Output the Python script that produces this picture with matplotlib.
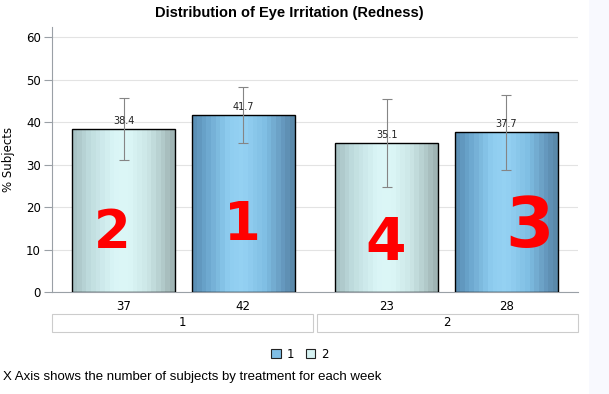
import numpy as np
import matplotlib
matplotlib.use("Agg")
import matplotlib.pyplot as plt
from matplotlib.colors import LinearSegmentedColormap
from matplotlib.patches import Rectangle, Patch

# data
groups = ["1", "2"]
treatments = ["2", "1", "2", "1"]          # fill style for each bar, left to right
n_subjects = ["37", "42", "23", "28"]
pct = [38.4, 41.7, 35.1, 37.7]
err_hi = [45.6, 48.2, 45.5, 46.5]
err_lo = [31.0, 35.2, 24.7, 28.7]
bar_group = [0, 0, 1, 1]
bar_side = [-1, 1, -1, 1]

# hand-written red marks over the bars
marks = ["2", "1", "4", "3"]
mark_x = [0.46, 1.45, 2.54, 3.63]
mark_y = [14.0, 15.8, 11.5, 15.3]
mark_size = [38, 38, 42, 50]

blue = LinearSegmentedColormap.from_list("blue", [
    (0.0, "#5b90b6"), (0.12, "#6ba6cd"), (0.35, "#8fcdf0"), (0.5, "#95d2f3"),
    (0.72, "#80bfe4"), (0.9, "#6699bf"), (1.0, "#5a89aa")], N=22)
light = LinearSegmentedColormap.from_list("light", [
    (0.0, "#a8c3c5"), (0.15, "#bfdcde"), (0.4, "#daf5f6"), (0.55, "#dcf7f7"),
    (0.75, "#cce6e6"), (0.9, "#b2cbcb"), (1.0, "#9fb4b4")], N=22)
fills = {"1": blue, "2": light}
swatch = {"1": "#7fbde4", "2": "#d6f2f2"}

W, H = 609, 394
fig = plt.figure(figsize=(W / 100, H / 100), dpi=100)
fig.patch.set_facecolor("white")
fig.patches.append(Rectangle((589 / W, 0), 1 - 589 / W, 1, transform=fig.transFigure,
                             facecolor="#f8f9fe", edgecolor="none", zorder=0))

ax = fig.add_axes([52 / W, (H - 292) / H, 526 / W, 265 / H])
ax.set_xlim(0, 4)
ax.set_ylim(0, 62.4)

width = 0.78
offset = 0.455
centers = [2 * g + 1 + s * offset for g, s in zip(bar_group, bar_side)]
grad = np.linspace(0, 1, 200).reshape(1, -1)
for x, v, t, hi, lo in zip(centers, pct, treatments, err_hi, err_lo):
    x0, x1 = x - width / 2, x + width / 2
    im = ax.imshow(grad, cmap=fills[t], extent=[x0, x1, 0, v], aspect="auto",
                   interpolation="nearest", zorder=2)
    rect = Rectangle((x0, 0), width, v, facecolor="none", edgecolor="black",
                     lw=1.0, zorder=3)
    ax.add_patch(rect)
    im.set_clip_path(rect)
    ax.errorbar(x, v, yerr=[[v - lo], [hi - v]], fmt="none", ecolor="#858585",
                elinewidth=0.8, capsize=3.6, capthick=0.8, zorder=4)
    ax.text(x, v + 1.8, f"{v:.1f}", ha="center", va="center", fontsize=7,
            color="#222222", zorder=5)

for m, x, y, s in zip(marks, mark_x, mark_y, mark_size):
    ax.text(x, y, m, ha="center", va="center", fontsize=s, color="red",
            fontweight="bold", family="DejaVu Sans", zorder=6)

ax.set_yticks(np.arange(0, 61, 10))
ax.grid(axis="y", color="#e3e3e3", lw=0.8, zorder=0)
ax.set_axisbelow(True)
ax.set_xticks(centers)
ax.set_xticklabels(n_subjects, fontsize=8.5)
ax.tick_params(axis="x", length=0, pad=6)
ax.tick_params(axis="y", length=6, color="#9aa0a6", labelsize=8.5, pad=2)
for s in ["top", "right"]:
    ax.spines[s].set_visible(False)
for s in ["left", "bottom"]:
    ax.spines[s].set_color("#9aa0a6")
ax.set_ylabel("% Subjects", fontsize=8.5, labelpad=8)

# group boxes under the tick labels
box_top = -22 / 265
box_h = 18 / 265
for i, g in enumerate(groups):
    x0 = 0.0 if i == 0 else 0.503
    w = 0.497
    ax.add_patch(Rectangle((x0, box_top - box_h), w, box_h, transform=ax.transAxes,
                           facecolor="white", edgecolor="#cccccc", lw=0.8,
                           clip_on=False))
    ax.text(x0 + w / 2, box_top - box_h / 2, g, transform=ax.transAxes,
            ha="center", va="center", fontsize=8.5)

fig.text(289 / W, 1 - 13 / H, "Distribution of Eye Irritation (Redness)",
         ha="center", va="center", fontsize=10.5, fontweight="bold",
         family="Liberation Sans")

handles = [Patch(facecolor=swatch[k], edgecolor="#222222", lw=0.8) for k in ["1", "2"]]
fig.legend(handles, ["1", "2"], loc="center", bbox_to_anchor=(300 / W, 1 - 354 / H),
           ncol=2, frameon=False, fontsize=8.5, handlelength=0.8, handleheight=0.8,
           handletextpad=0.5, columnspacing=1.0)

fig.text(3 / W, 1 - 377 / H, "X Axis shows the number of subjects by treatment for each week",
         ha="left", va="center", fontsize=9.5, family="Liberation Sans")

fig.savefig("out.png", dpi=100)
